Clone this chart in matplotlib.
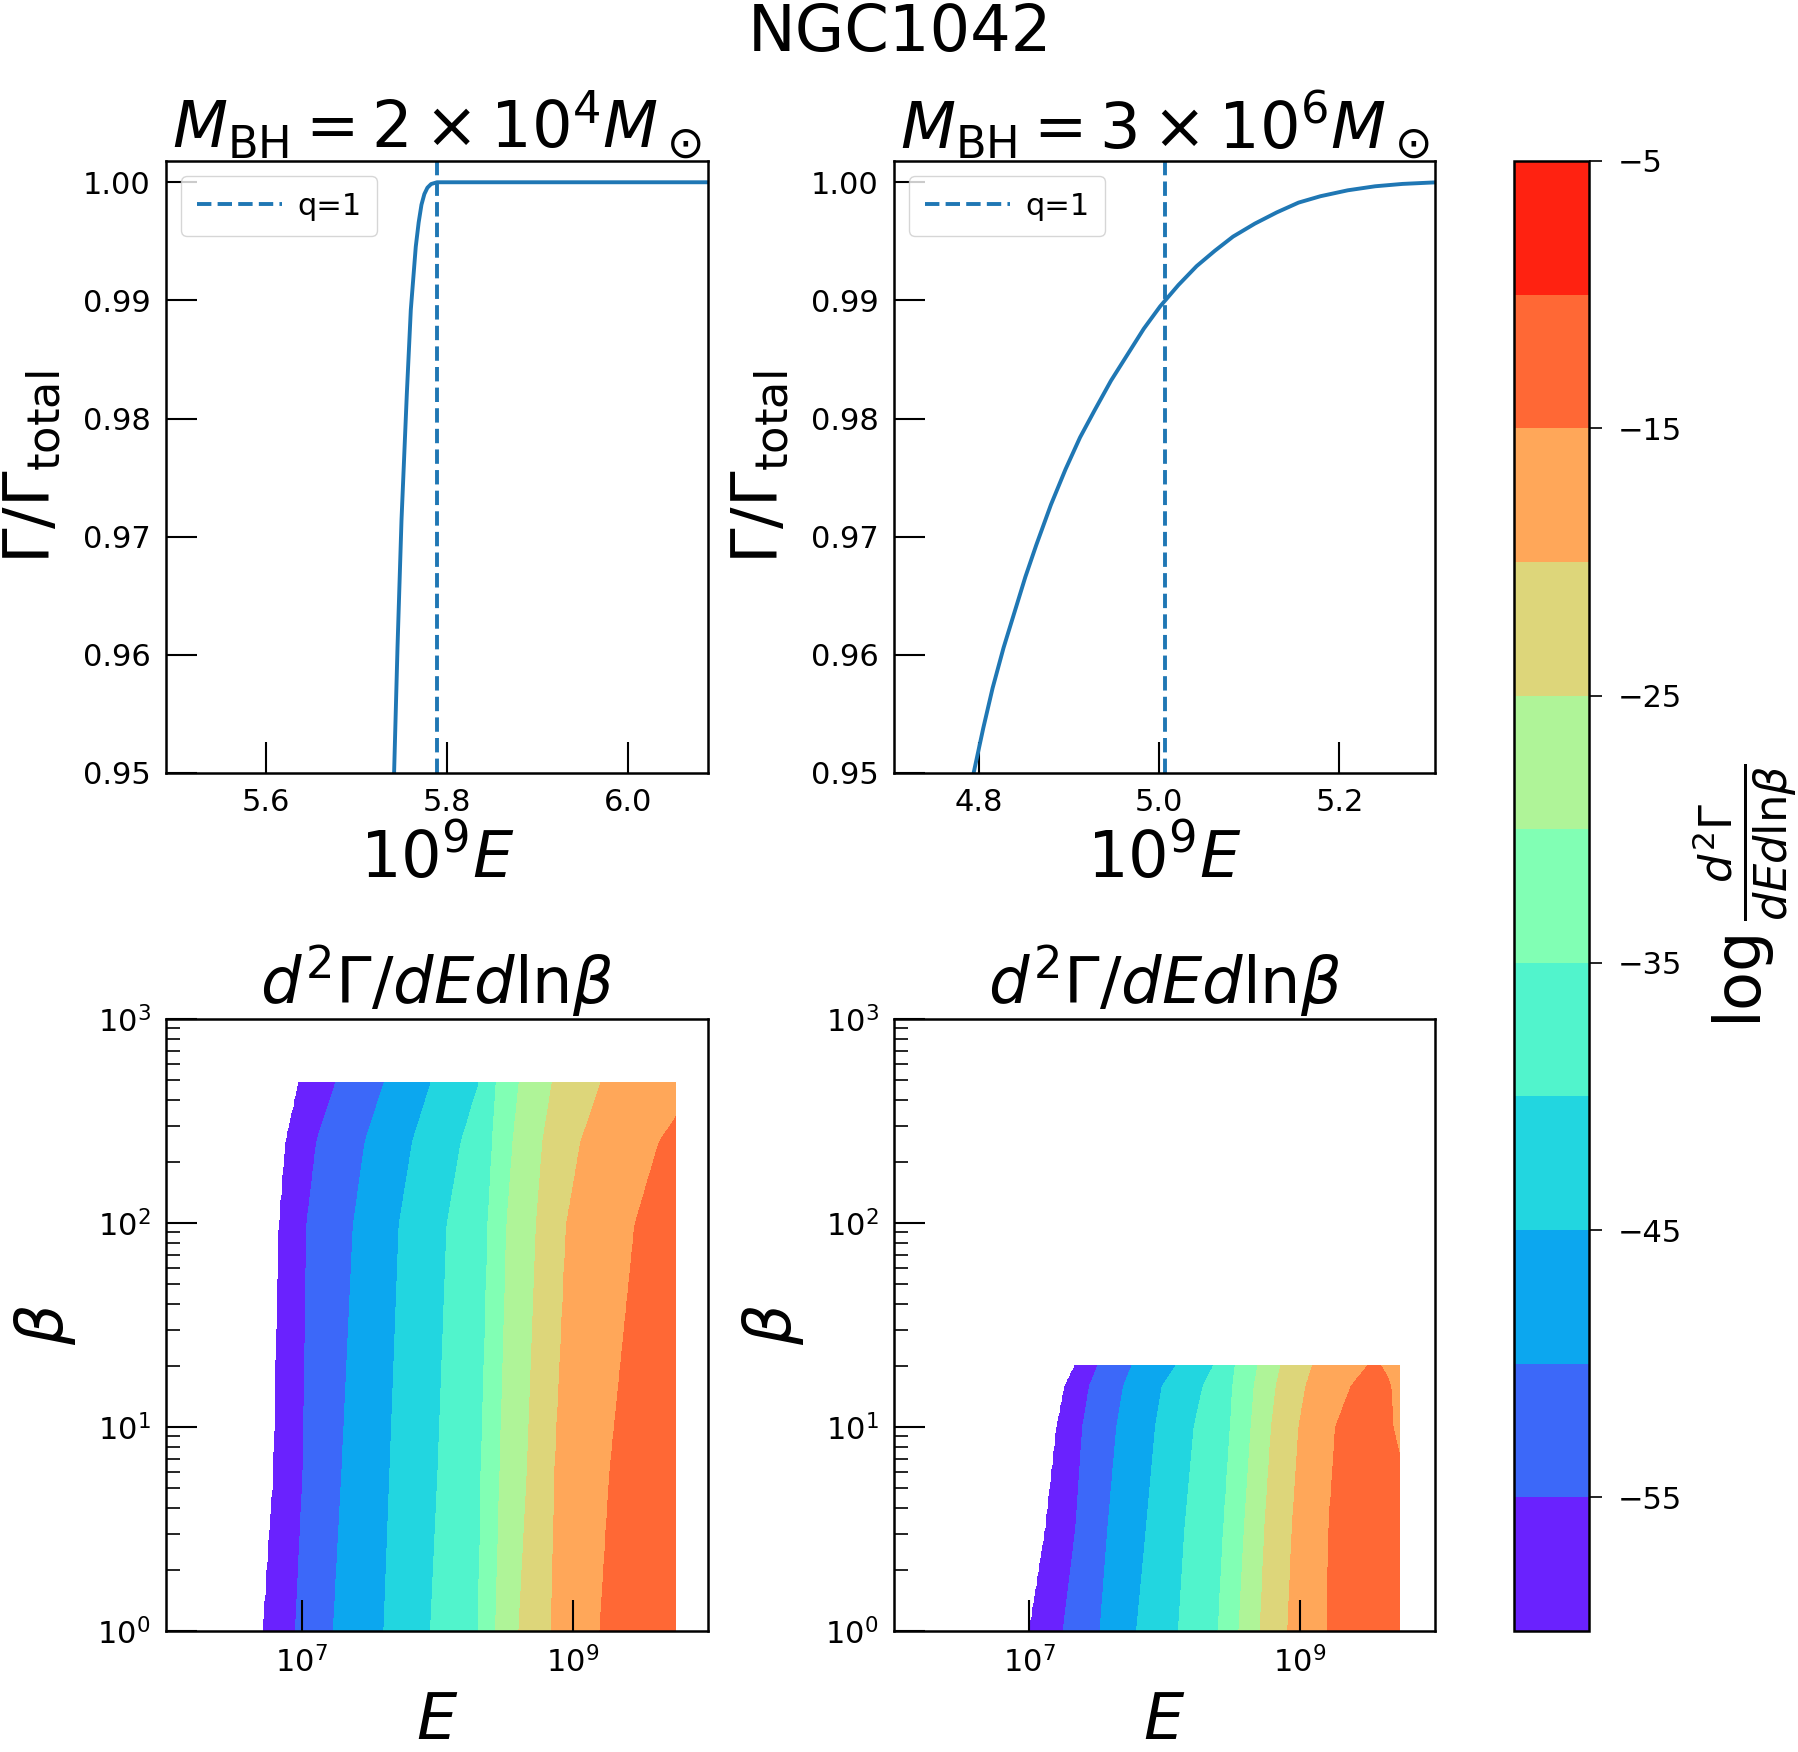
import numpy as np
import matplotlib
matplotlib.use("Agg")
import matplotlib.pyplot as plt

# ---- top row: cumulative rate vs 10^9 E
E_LO = [5.7400, 5.7415, 5.7453, 5.7497, 5.7556, 5.7600, 5.7655, 5.7687, 5.7718, 5.7750,
        5.7784, 5.7825, 5.7890, 6.0900]
G_LO = [0.9460, 0.9500, 0.9607, 0.9714, 0.9821, 0.9892, 0.99455, 0.9966, 0.9981, 0.9990,
        0.99954, 0.99985, 1.0000, 1.0000]
E_HI = [4.7880, 4.7943, 4.8050, 4.8154, 4.8275, 4.8396, 4.8517, 4.8638, 4.8800, 4.8962,
        4.9123, 4.9285, 4.9466, 4.9648, 4.9830, 5.0012, 5.0214, 5.0416, 5.0618, 5.0820,
        5.1062, 5.1305, 5.1547, 5.1790, 5.2093, 5.2396, 5.2699, 5.3002, 5.3100]
G_HI = [0.9480, 0.9500, 0.9538, 0.9572, 0.9606, 0.9636, 0.9666, 0.9693, 0.9727, 0.9757,
        0.9784, 0.9807, 0.9832, 0.9854, 0.9876, 0.9895, 0.9913, 0.9929, 0.9942, 0.9954,
        0.9965, 0.99745, 0.99828, 0.99882, 0.99932, 0.99966, 0.99986, 0.99997, 1.0000]
Q1 = [5.789, 5.006]
TITLES = [r"$M_{\rm BH}=2\times10^4M_\odot$", r"$M_{\rm BH}=3\times10^6M_\odot$"]

# ---- bottom row: log10 E of each contour boundary (levels -60..-15) at a few log10 beta rows
LEVELS = np.arange(-60, 0, 5)
BND_LEVELS = [-60, -55, -50, -45, -40, -35, -30, -25, -20, -15]

ROWS_L = [0.00, 0.78, 1.99, 2.40, 2.69]
BND_L = [
    [6.721, 6.955, 7.234, 7.608, 7.952, 8.307, 8.431, 8.603, 8.842, 9.200],
    [6.800, 7.010, 7.297, 7.652, 8.007, 8.328, 8.463, 8.666, 8.868, 9.274],
    [6.840, 7.037, 7.382, 7.720, 8.074, 8.378, 8.514, 8.733, 8.953, 9.459],
    [6.890, 7.110, 7.470, 7.820, 8.180, 8.410, 8.560, 8.780, 9.060, 9.640],
    [6.985, 7.253, 7.611, 7.957, 8.315, 8.436, 8.605, 8.850, 9.210, 9.950],
]
EMAX_L = 9.762
# after the -15 boundary: (log E of peak, peak value, value at E max)
TAIL_L = [[9.75, -11.0, -11.0], [9.75, -11.5, -11.5], [9.75, -13.0, -13.0],
          [9.755, -14.2, -14.2], [9.76, -16.0, -16.0]]

ROWS_R = [0.00, 0.50, 1.00, 1.20, 1.30]
BND_R = [
    [7.006, 7.250, 7.523, 7.793, 8.103, 8.398, 8.550, 8.707, 8.910, 9.200],
    [7.125, 7.343, 7.580, 7.865, 8.150, 8.438, 8.590, 8.740, 8.943, 9.212],
    [7.209, 7.394, 7.646, 7.933, 8.219, 8.488, 8.640, 8.790, 8.993, 9.263],
    [7.269, 7.444, 7.697, 7.983, 8.286, 8.505, 8.663, 8.825, 9.044, 9.380],
    [7.343, 7.505, 7.758, 8.084, 8.364, 8.522, 8.690, 8.859, 9.094, 9.500],
]
EMAX_R = 9.735
TAIL_R = [[9.71, -11.0, -11.0], [9.68, -11.5, -12.0], [9.55, -12.0, -16.0],
          [9.55, -13.0, -16.0], [9.56, -14.6, -16.5]]


def field(rows, bnd, tail, emax):
    rows = np.array(rows); bnd = np.array(bnd); tail = np.array(tail)
    lb = np.linspace(0, rows[-1], 90)
    le = np.linspace(6.0, emax, 220)
    Z = np.full((lb.size, le.size), np.nan)
    for i, b in enumerate(lb):
        kb = [np.interp(b, rows, bnd[:, k]) for k in range(bnd.shape[1])]
        ep, zp, ze = [np.interp(b, rows, tail[:, k]) for k in range(3)]
        kx = [kb[0] - 1.0] + kb + [ep, emax]
        kz = [-65.0] + BND_LEVELS + [zp, ze]
        Z[i] = np.interp(le, kx, kz)
    return 10 ** le, 10 ** lb, Z


plt.rcParams["font.family"] = "DejaVu Sans"
plt.rcParams["mathtext.fontset"] = "dejavusans"
fig = plt.figure(figsize=(17.99, 17.52), dpi=100)
W, H = 1799, 1752


def box(x0, y0, x1, y1):
    return [x0 / W, 1 - y1 / H, (x1 - x0) / W, (y1 - y0) / H]


ax_tl = fig.add_axes(box(166, 161, 708, 773))
ax_tr = fig.add_axes(box(894, 161, 1435, 773))
ax_bl = fig.add_axes(box(166, 1019, 708, 1631))
ax_br = fig.add_axes(box(894, 1019, 1435, 1631))
cax = fig.add_axes(box(1514, 161, 1589, 1631))

BIG = 46
TICK = 22


def ticks(ax):
    ax.tick_params(which="major", direction="in", length=22, width=1.5, labelsize=TICK, pad=11)
    ax.tick_params(which="minor", direction="in", length=10, width=1.2)
    for s in ax.spines.values():
        s.set_linewidth(1.8)


for ax, e, g, q, t in [(ax_tl, E_LO, G_LO, Q1[0], TITLES[0]), (ax_tr, E_HI, G_HI, Q1[1], TITLES[1])]:
    ax.plot(e, g, color="#1f77b4", lw=2.8)
    ax.axvline(q, color="#1f77b4", ls="--", lw=2.8, label="q=1")
    ax.set_xlim(q - 0.3, q + 0.3)
    ax.set_ylim(0.95, 1.0018)
    ax.set_yticks([0.95, 0.96, 0.97, 0.98, 0.99, 1.00])
    ax.yaxis.set_major_formatter(matplotlib.ticker.FormatStrFormatter("%.2f"))
    ax.xaxis.set_major_locator(matplotlib.ticker.MultipleLocator(0.2))
    ax.xaxis.set_major_formatter(matplotlib.ticker.FormatStrFormatter("%.1f"))
    ax.set_title(t, fontsize=BIG, pad=10)
    ax.set_xlabel(r"$10^9E$", fontsize=BIG, labelpad=8)
    ax.set_ylabel(r"$\Gamma/\Gamma_{\rm total}$", fontsize=BIG, labelpad=14)
    ax.legend(loc="upper left", fontsize=TICK, handlelength=2.8, handletextpad=0.5,
              borderpad=0.5)
    ticks(ax)

for ax, rows, bnd, tail, emax in [(ax_bl, ROWS_L, BND_L, TAIL_L, EMAX_L),
                                  (ax_br, ROWS_R, BND_R, TAIL_R, EMAX_R)]:
    E, B, Z = field(rows, bnd, tail, emax)
    cs = ax.contourf(E, B, Z, levels=LEVELS, cmap="rainbow")
    ax.set_xscale("log"); ax.set_yscale("log")
    ax.set_xlim(1e6, 1e10); ax.set_ylim(1, 1e3)
    ax.set_xticks([1e7, 1e9])
    ax.xaxis.set_minor_locator(matplotlib.ticker.NullLocator())
    ax.set_title(r"$d^2\Gamma/dEd\mathrm{ln}\beta$", fontsize=BIG, pad=10)
    ax.set_xlabel(r"$E$", fontsize=BIG, labelpad=8)
    ax.set_ylabel(r"$\beta$", fontsize=BIG, labelpad=14)
    ticks(ax)

cb = fig.colorbar(cs, cax=cax, ticks=[-5, -15, -25, -35, -45, -55])
cb.ax.tick_params(labelsize=TICK, length=9, width=1.2, pad=12)
cb.set_label(r"$\log\frac{d^2\Gamma}{dEd\mathrm{ln}\beta}$", fontsize=BIG, labelpad=6)
cb.outline.set_linewidth(1.8)

fig.suptitle("NGC1042", fontsize=BIG, y=0.999, va="top")
fig.savefig("out.png", dpi=100)
